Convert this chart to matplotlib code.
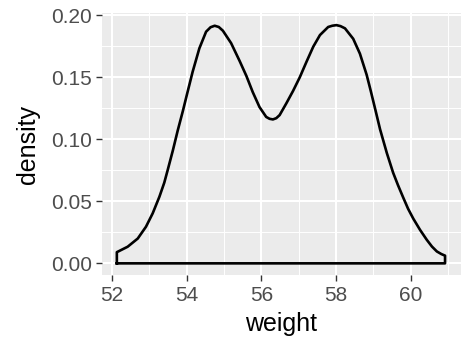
import matplotlib
matplotlib.use("Agg")
import matplotlib.pyplot as plt
from matplotlib.ticker import MultipleLocator

# density curve (weight, density)
weight = [52.13, 52.42, 52.69, 52.91, 53.09, 53.27, 53.40, 53.49, 53.63, 53.76,
          53.90, 53.99, 54.16, 54.34, 54.52, 54.64, 54.75, 54.86, 54.97, 55.19,
          55.42, 55.60, 55.77, 55.95, 56.13, 56.22, 56.31, 56.40, 56.49, 56.67,
          56.85, 57.03, 57.21, 57.39, 57.57, 57.79, 57.90, 58.01, 58.12, 58.24,
          58.46, 58.64, 58.82, 58.93, 59.06, 59.18, 59.36, 59.53, 59.66, 59.80,
          59.93, 60.07, 60.25, 60.43, 60.57, 60.70, 60.82, 60.92]
density = [0.009, 0.0134, 0.020, 0.0295, 0.0403, 0.0537, 0.065, 0.075, 0.091, 0.107,
           0.123, 0.134, 0.1544, 0.1733, 0.1867, 0.1903, 0.1915, 0.1905, 0.1875, 0.1775,
           0.163, 0.151, 0.138, 0.126, 0.118, 0.1165, 0.116, 0.117, 0.1195, 0.129,
           0.139, 0.150, 0.1625, 0.1746, 0.184, 0.1905, 0.1915, 0.192, 0.1912, 0.1894,
           0.181, 0.169, 0.152, 0.139, 0.123, 0.108, 0.089, 0.073, 0.063, 0.053,
           0.044, 0.036, 0.027, 0.019, 0.0135, 0.0096, 0.0075, 0.0062]
xticks = [52, 54, 56, 58, 60]
yticks = [0.00, 0.05, 0.10, 0.15, 0.20]

plt.rcParams['font.family'] = ['Liberation Sans', 'DejaVu Sans']

fig = plt.figure(figsize=(4.74, 3.51), dpi=100)
ax = fig.add_axes([0.215, 0.2165, 0.757, 0.7455])
ax.set_facecolor("#EBEBEB")

# closed polygon like geom_density
px = [weight[0]] + weight + [weight[-1], weight[0]]
py = [0] + density + [0, 0]
ax.plot(px, py, color="black", lw=1.9, solid_joinstyle="round", zorder=3)

ax.set_xlim(51.73, 61.34)
ax.set_ylim(-0.0094, 0.2015)
ax.set_xticks(xticks)
ax.set_yticks(yticks)
ax.set_yticklabels(["%.2f" % v for v in yticks])
ax.xaxis.set_minor_locator(MultipleLocator(1))
ax.yaxis.set_minor_locator(MultipleLocator(0.025))
ax.grid(which="major", color="white", lw=1.5)
ax.grid(which="minor", color="white", lw=0.7)
ax.set_axisbelow(True)
for s in ax.spines.values():
    s.set_visible(False)

ax.tick_params(which="major", length=4, width=1, color="#333333",
               labelsize=15, labelcolor="#4D4D4D")
ax.tick_params(axis="x", pad=4)
ax.tick_params(axis="y", pad=3)
ax.tick_params(which="minor", length=0)

ax.set_xlabel("weight", fontsize=18, labelpad=5)
ax.set_ylabel("density", fontsize=18, labelpad=8)

fig.savefig("out.png", dpi=100)
